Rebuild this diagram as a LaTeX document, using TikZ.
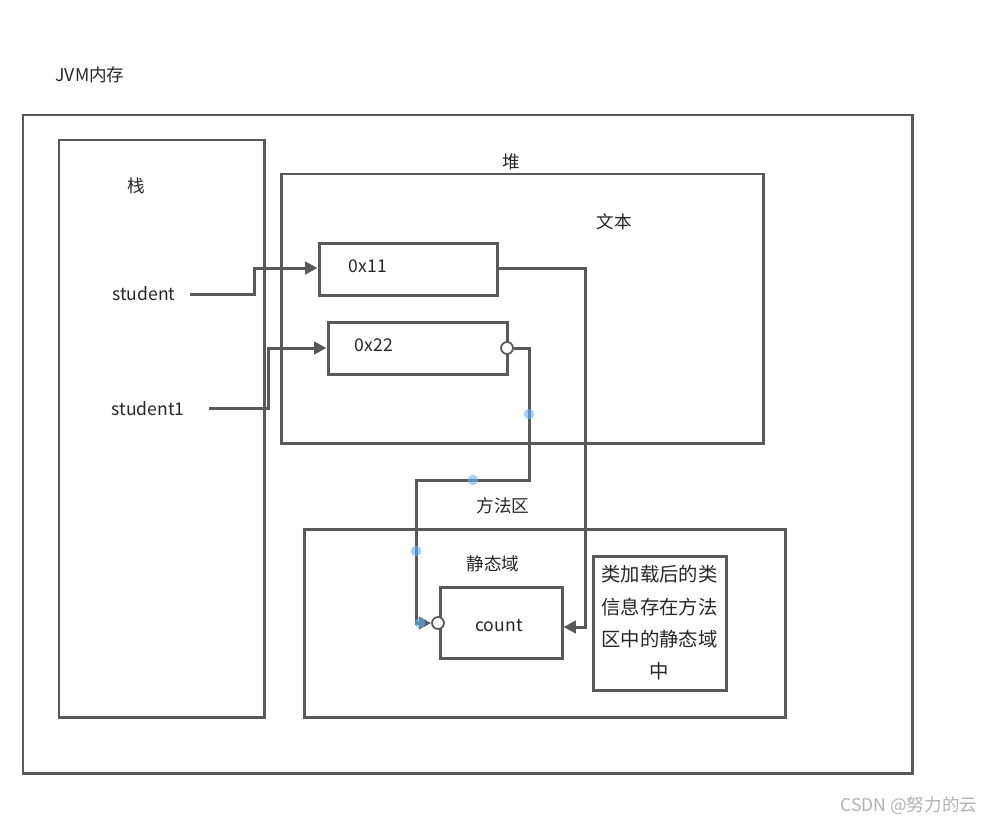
\documentclass[tikz,border=0pt]{standalone}
\usepackage{fontspec}
\setmainfont{Noto Sans CJK SC}
\usetikzlibrary{arrows.meta}
\definecolor{ln}{HTML}{595959}
\begin{document}
\begin{tikzpicture}[x=0.01cm,y=-0.01cm,
  box/.style={draw=ln,line width=0.85pt},
  lbl/.style={font=\fontsize{5}{6}\selectfont,text=black!85,inner sep=0},
  con/.style={draw=ln,line width=0.85pt,-{Triangle[length=3.5pt,width=3.5pt]}},
  dot/.style={fill=blue!50!cyan!60,opacity=0.6,circle,inner sep=0,minimum size=3pt}]
\useasboundingbox (0,0) rectangle (983,824);
\node[lbl] (jvm) at (90,75) {JVM内存};
\draw[box] (23,115) rectangle (912,773);
\draw[box] (59,140) rectangle (264,717);
\node[lbl] (zhan) at (136,186) {栈};
\draw[box] (281,174) rectangle (763,443);
\node[lbl] (dui) at (511,162) {堆};
\node[lbl] (wb) at (614,222) {文本};
\node[box,minimum width=178*0.01cm,minimum height=52*0.01cm,inner sep=0] (a) at (408,269) {};
\node[lbl] at (368,266) {0x11};
\node[box,minimum width=179*0.01cm,minimum height=52*0.01cm,inner sep=0] (b) at (417.5,348) {};
\node[lbl] at (374,345) {0x22};
\node[lbl] (s) at (144,294) {student};
\node[lbl] (s1) at (148,409) {student1};
\coordinate (se) at (190,294);
\coordinate (s1e) at (209,408);
\draw[con] (se) -- (254,294) -- (254,268) -- (a.west |- 0,268);
\draw[con] (s1e) -- (268,408) -- (268,348) -- (b.west);
\draw[box] (304,529) rectangle (785,717);
\node[lbl] (ff) at (503,506) {方法区};
\node[lbl] (jt) at (493,564) {静态域};
\node[box,minimum width=122*0.01cm,minimum height=71*0.01cm,inner sep=0] (c) at (501,622.5) {};
\node[lbl] at (499,625) {count};
\node[box,minimum width=133*0.01cm,minimum height=134*0.01cm,inner sep=0,
  font=\fontsize{5.5}{9.2}\selectfont,align=center,text=black!85] (info) at (659.5,623)
  {类加载后的类\\信息存在方法\\区中的静态域\\中};
\draw[con] (a.east |- 0,268) -- (585,268) -- (585,627) -- (c.east |- 0,627);
\node[draw=ln,fill=white,circle,inner sep=0,minimum size=3.4pt,line width=0.5pt] (o1) at (507,348) {};
\node[draw=ln,fill=white,circle,inner sep=0,minimum size=3.4pt,line width=0.5pt] (o2) at (438,623) {};
\draw[con] (o1.east) -- (529,348) -- (529,480) -- (416,480) -- (416,623) -- (o2.west);
\node[dot] at (529,414) {};
\node[dot] at (473,480) {};
\node[dot] at (416,551) {};
\node[dot] at (420,623) {};
\node[lbl,text=black!30,anchor=east] (wm) at (978,806) {CSDN @努力的云};
\end{tikzpicture}
\end{document}
